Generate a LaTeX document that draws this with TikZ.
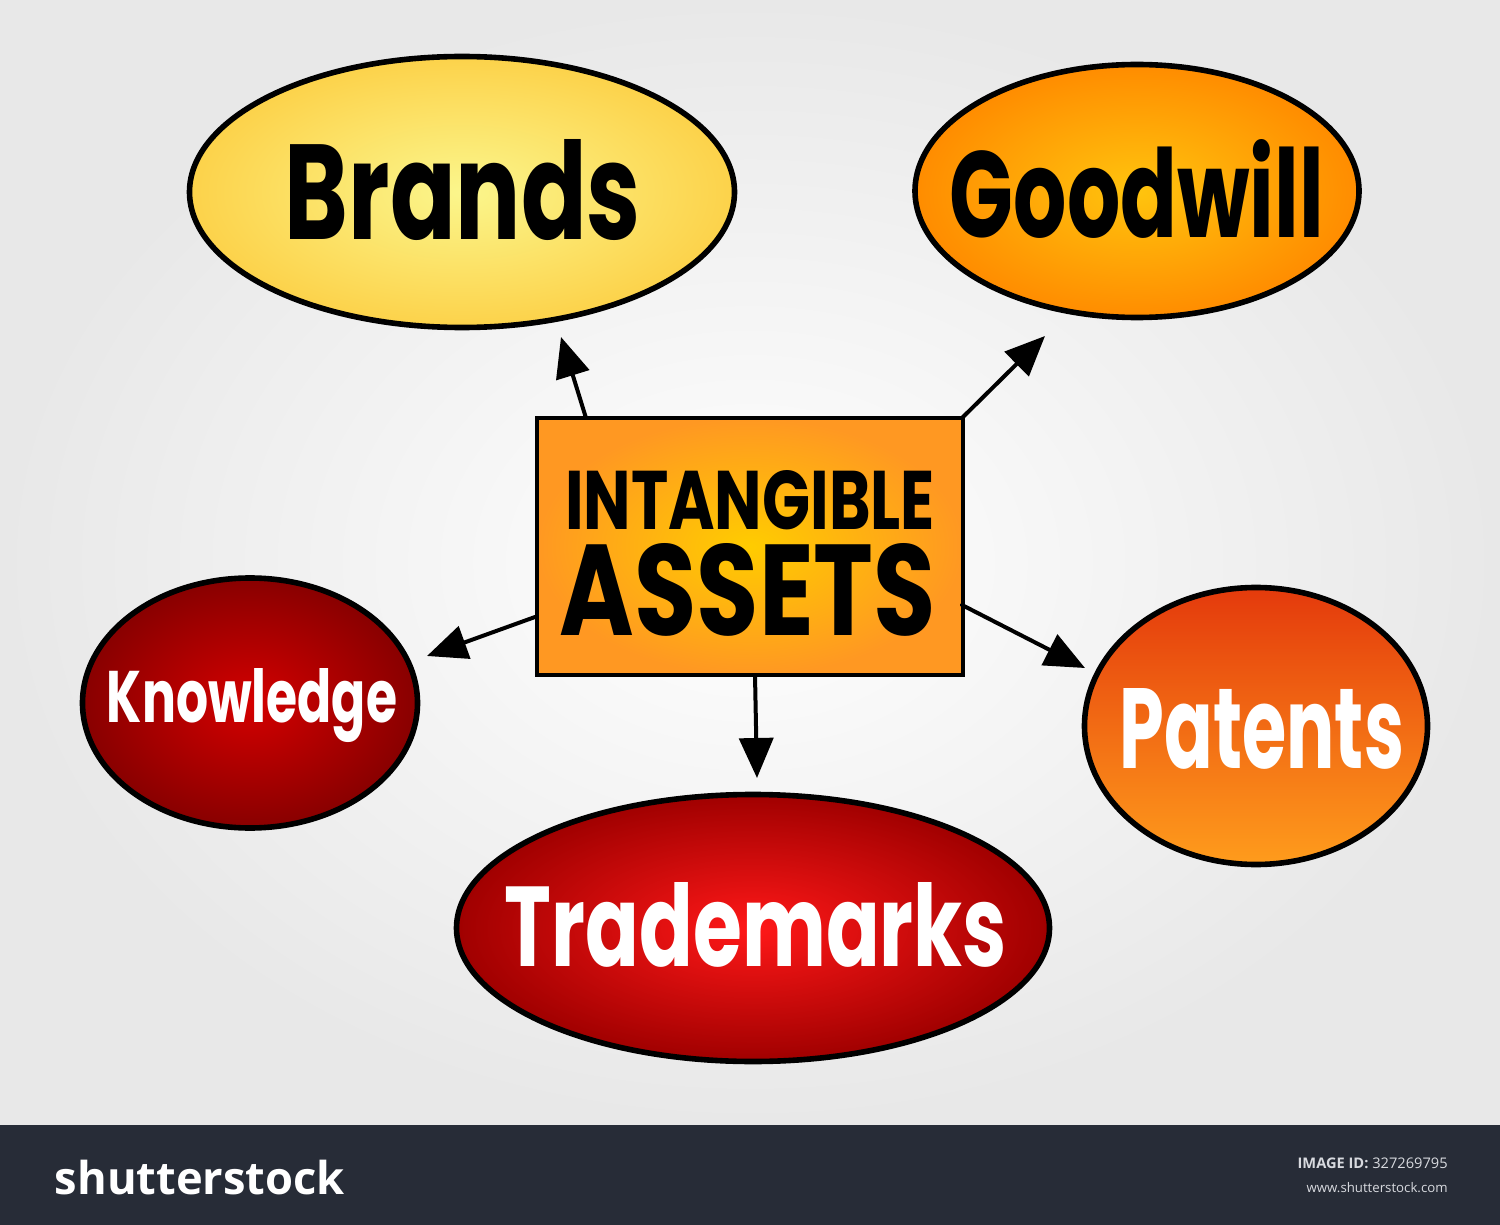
\documentclass[tikz,border=0pt]{standalone}
\usepackage{fontspec}
\setmainfont{Poppins}
\newfontfamily\hand{Poppins}
\newfontfamily\osans{Open Sans}
\usetikzlibrary{shapes.geometric,arrows.meta}
\definecolor{bggray}{HTML}{E8E8E8}
\definecolor{brandsIn}{HTML}{FBF68C}
\definecolor{brandsOut}{HTML}{FCD24A}
\definecolor{goodIn}{HTML}{FFC40E}
\definecolor{goodOut}{HTML}{FF8C00}
\definecolor{ctrIn}{HTML}{FFCC00}
\definecolor{ctrOut}{HTML}{FF9822}
\definecolor{knowIn}{HTML}{D40000}
\definecolor{knowOut}{HTML}{880000}
\definecolor{tmIn}{HTML}{FF1818}
\definecolor{tmOut}{HTML}{A00000}
\definecolor{patTop}{HTML}{E43A0C}
\definecolor{patBot}{HTML}{FF9C1C}
\definecolor{barcol}{HTML}{272C37}
\definecolor{bartext}{HTML}{D8DADF}
\begin{document}
\begin{tikzpicture}[x=0.5pt,y=-0.5pt,
  bubble/.style={ellipse, draw=black, line width=2.8pt, inner sep=0pt},
  ctrbox/.style={rectangle, draw=black, line width=2.2pt, inner sep=0pt},
  conn/.style={draw=black, line width=2pt, line cap=round, -{Triangle[length=20pt,width=17pt]}},
  lbl/.style={inner sep=0pt, font=\hand\bfseries, anchor=base},
  whitelbl/.style={lbl, text=white}]
\useasboundingbox (0,0) rectangle (1500,1225);
\shade[inner color=white, outer color=bggray] (0,0) rectangle (1500,1125);

% central box
\node[ctrbox, minimum width=213pt, minimum height=128.5pt, inner color=ctrIn, outer color=ctrOut] (ctr) at (750,546.5) {};
\node[lbl] (t1) at (750,529) {\resizebox{185pt}{29.5pt}{INTANGIBLE}};
\node[lbl] (t2) at (748,635) {\resizebox{188pt}{46pt}{ASSETS}};

% bubbles
\node[bubble, minimum width=272.5pt, minimum height=135.5pt, inner color=brandsIn, outer color=brandsOut] (brands) at (462,192) {};
\node[bubble, minimum width=222pt, minimum height=126.5pt, inner color=goodIn, outer color=goodOut] (goodwill) at (1137,191) {};
\node[bubble, minimum width=167.5pt, minimum height=125pt, inner color=knowIn, outer color=knowOut] (knowledge) at (250,703) {};
\node[bubble, minimum width=171.5pt, minimum height=138.5pt, top color=patTop, bottom color=patBot] (patents) at (1256,726) {};
\node[bubble, minimum width=296.5pt, minimum height=133.5pt, inner color=tmIn, outer color=tmOut] (trademarks) at (753,928) {};

% bubble texts
\node[lbl] (brandsT) at (463,240) {\resizebox{178pt}{50pt}{Brands}};
\node[lbl] (goodwillT) at (1137,238) {\resizebox{187pt}{49pt}{Goodwill}};
\node[whitelbl] (knowledgeT) at (252,722) {\resizebox{145pt}{27pt}{Knowledge}};
\node[whitelbl] (patentsT) at (1262,768) {\resizebox{142pt}{40pt}{Patents}};
\node[whitelbl] (trademarksT) at (756,966) {\resizebox{251pt}{42pt}{Trademarks}};

% connector end points
\coordinate (s1) at (586,418);  \coordinate (e1) at (561,337);
\coordinate (s2) at (962,418);  \coordinate (e2) at (1045,336);
\coordinate (s3) at (535,617);  \coordinate (e3) at (427,656);
\coordinate (s4) at (962,605);  \coordinate (e4) at (1085,668);
\coordinate (s5) at (755,675);  \coordinate (e5) at (757,778);
\draw[conn] (s1) -- (e1);
\draw[conn] (s2) -- (e2);
\draw[conn] (s3) -- (e3);
\draw[conn] (s4) -- (e4);
\draw[conn] (s5) -- (e5);

% bottom bar
\fill[barcol] (0,1125) rectangle (1500,1225);
\node[inner sep=0pt, text=white] (logo) at (200,1178) {\resizebox{145pt}{!}{\osans\bfseries shutterstock}};
\node[inner sep=0pt, anchor=east, text=bartext] (imgid) at (1448,1163) {\resizebox{75pt}{!}{\osans{\bfseries IMAGE ID:} 327269795}};
\node[inner sep=0pt, anchor=east, text=bartext] (www) at (1448,1188) {\resizebox{70.5pt}{!}{\osans www.shutterstock.com}};
\end{tikzpicture}
\end{document}
